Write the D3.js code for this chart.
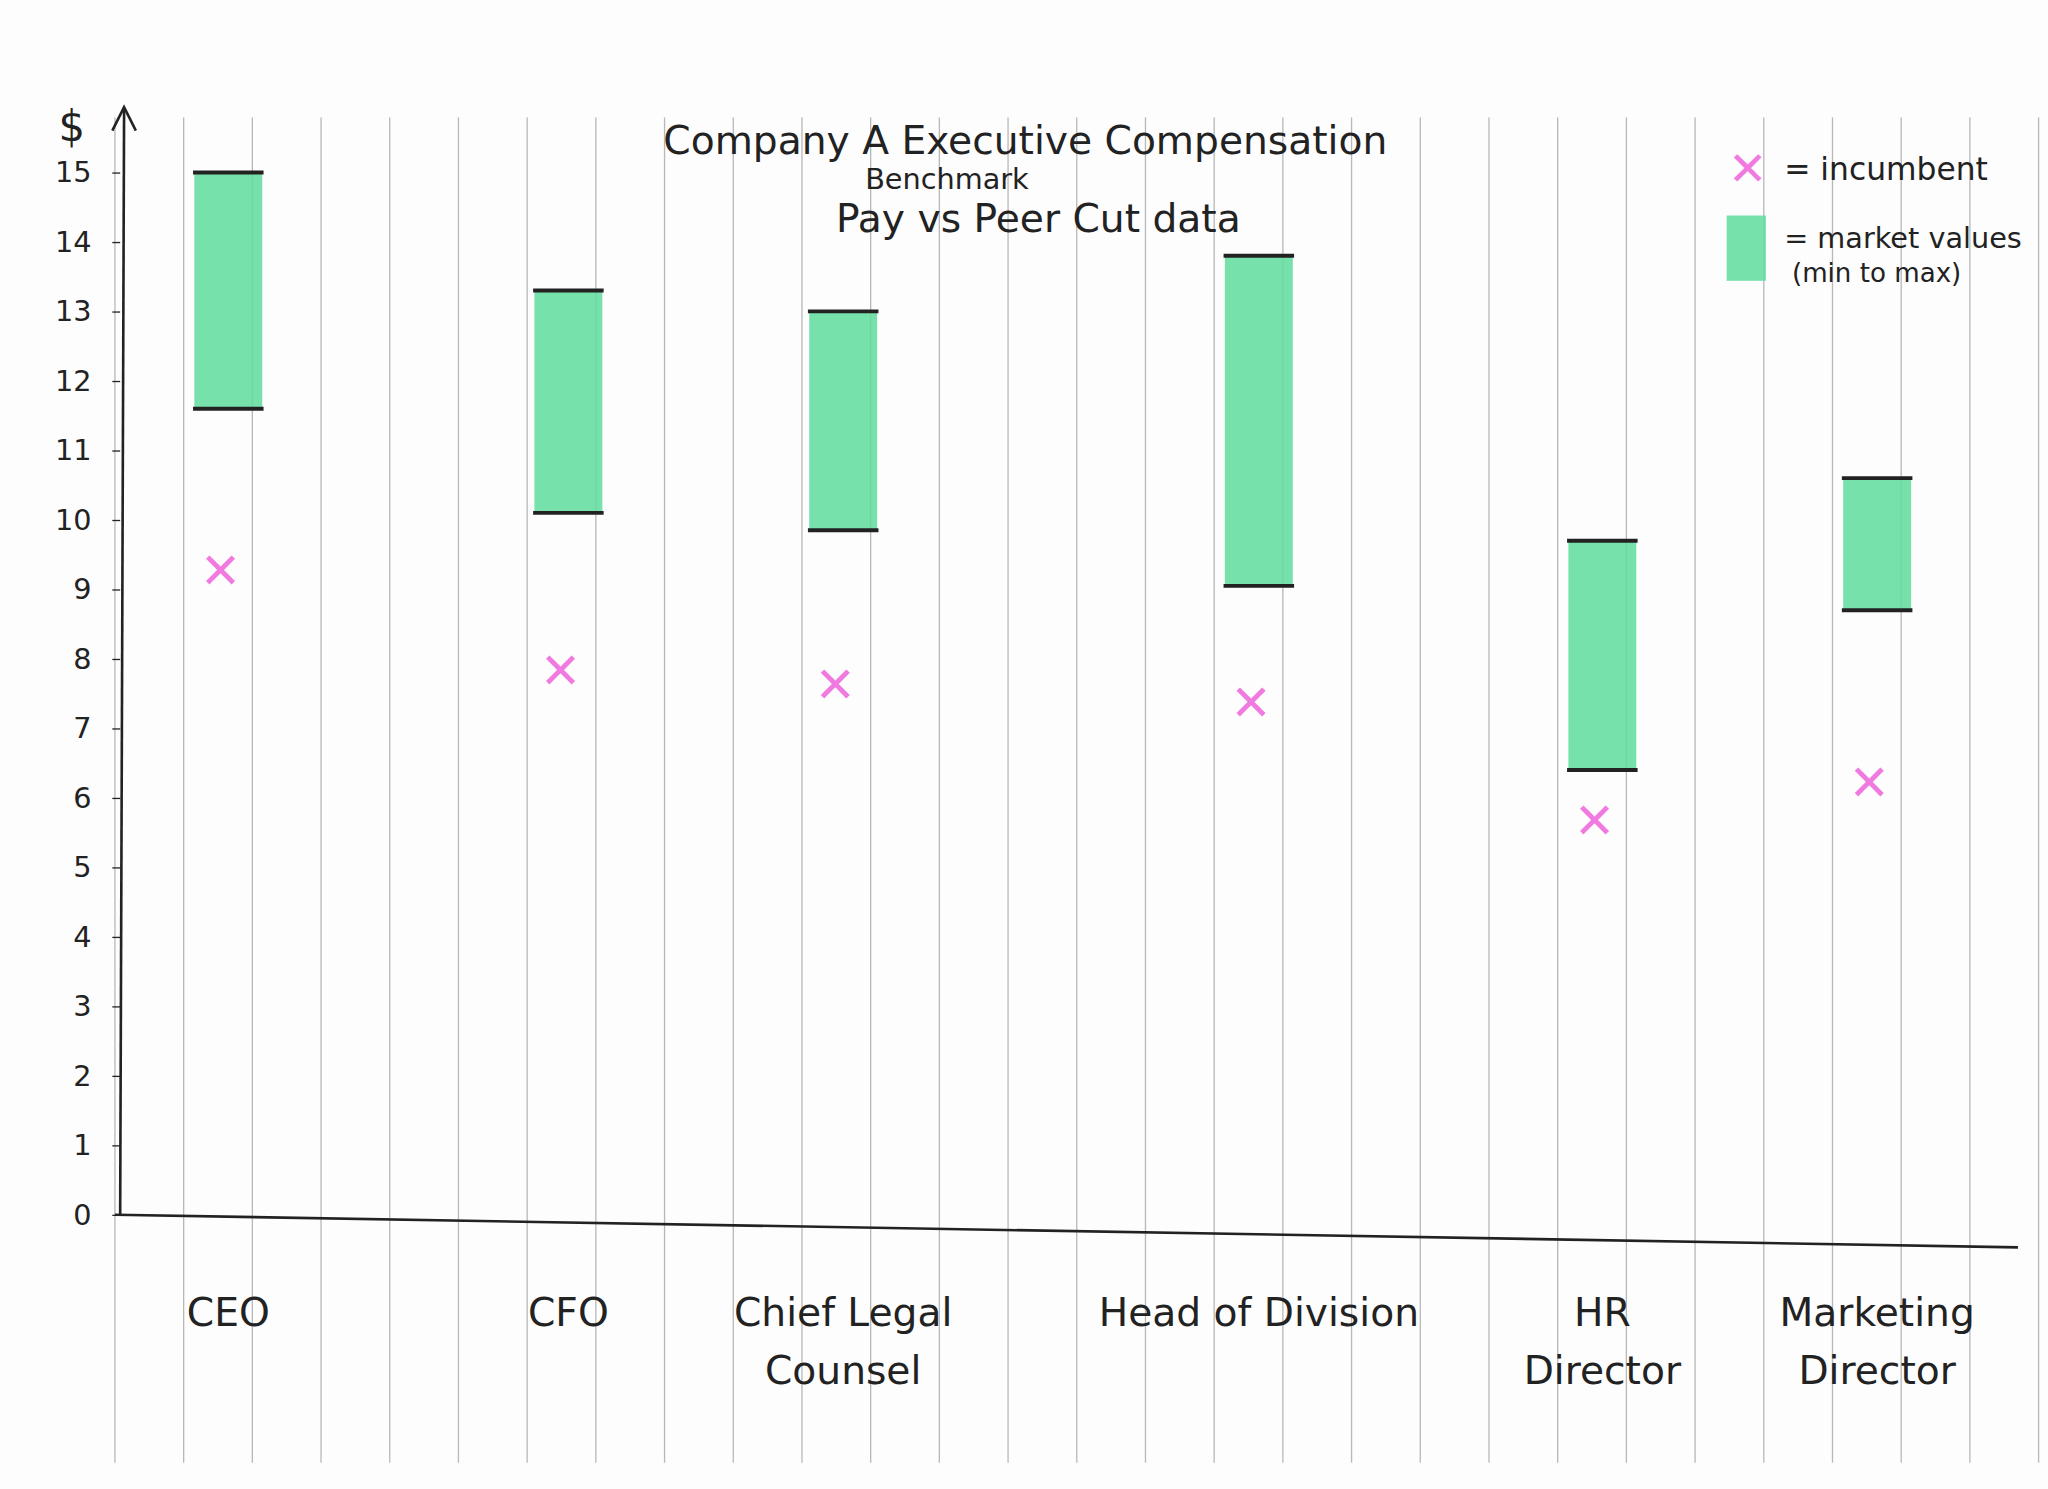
<!DOCTYPE html>
<html><head><meta charset="utf-8">
<script src="https://cdn.jsdelivr.net/npm/d3@7"></script>
<style>body{margin:0;background:#fff}text{font-family:"DejaVu Sans",sans-serif;fill:#222}</style>
</head><body>
<svg id="c" width="2048" height="1489" viewBox="0 0 1568 1140"></svg>
<script>
const categories = ["CEO","CFO","Chief Legal|Counsel","Head of Division","HR|Director","Marketing|Director"];
const gridColumn = [1.65, 6.6, 10.6, 16.65, 21.65, 25.65];
const marketMin = [11.6, 10.1, 9.85, 9.05, 6.4, 8.7];
const marketMax = [15.0, 13.3, 13.0, 13.8, 9.7, 10.6];
const incumbent = [9.25, 7.8, 7.6, 7.35, 5.65, 6.2];
const yTicks = d3.range(0, 16);

const svg = d3.select("#c");
svg.append("rect").attr("width",1568).attr("height",1140).attr("fill","#fdfdfd");
const x = d3.scaleLinear().domain([0, 1]).range([88, 140.6]);
const y = d3.scaleLinear().domain([0, 15]).range([930, 132]);

svg.append("g").selectAll("line").data(d3.range(0, 29)).join("line")
  .attr("x1", d => x(d)).attr("x2", d => x(d)).attr("y1", 90).attr("y2", 1120)
  .attr("stroke", "#b8b8b8").attr("stroke-width", 1);

const ya = svg.append("g").attr("transform", "translate(92,0)")
  .call(d3.axisLeft(y).tickValues(yTicks).tickSize(6).tickFormat(d3.format("d")));
ya.select(".domain").remove();
ya.selectAll("line").attr("stroke", "#222");
ya.selectAll("text").attr("x", -22).style("font-size", "22px").style("font-family","DejaVu Sans").attr("fill","#222");
svg.append("line").attr("x1",92).attr("x2",95).attr("y1",930).attr("y2",84).attr("stroke","#222").attr("stroke-width",2);
svg.append("path").attr("d","M86,100 L95,82 L104,100").attr("fill","none").attr("stroke","#222").attr("stroke-width",2);
svg.append("text").attr("x",55).attr("y",108).attr("text-anchor","middle").style("font-size","32px").text("$");

svg.append("line").attr("x1",88).attr("y1",y(0)).attr("x2",1545).attr("y2",y(0)+25).attr("stroke","#222").attr("stroke-width",2);

const g = svg.append("g");
categories.forEach((c, i) => {
  const cx = x(gridColumn[i]);
  g.append("rect").attr("x", cx - 26).attr("width", 52)
    .attr("y", y(marketMax[i])).attr("height", y(marketMin[i]) - y(marketMax[i]))
    .attr("fill", "#5fdc9c").attr("opacity", 0.85);
  [marketMin[i], marketMax[i]].forEach(v => g.append("line")
    .attr("x1", cx - 27).attr("x2", cx + 27).attr("y1", y(v)).attr("y2", y(v))
    .attr("stroke", "#222").attr("stroke-width", 3));
  g.append("text").attr("x", cx - 6).attr("y", y(incumbent[i]) + 12).attr("text-anchor","middle")
    .style("font-size","38px").style("font-weight","bold").style("fill","#f07ae0").text("✕");
  const lines = c.split("|");
  const t = g.append("text").attr("x", cx).attr("y", 1015).attr("text-anchor","middle").style("font-size","30px");
  lines.forEach((l, k) => t.append("tspan").attr("x", cx).attr("dy", k ? 45 : 0).text(l));
});

const title = ["Company A  Executive Compensation", "Benchmark", "Pay vs Peer Cut data"];
title.forEach((s, k) => svg.append("text").attr("x", [785, 725, 795][k]).attr("y", [118, 145, 178][k])
  .attr("text-anchor","middle").style("font-size", k === 1 ? "22px" : "30px").text(s));

svg.append("text").attr("x",1338).attr("y",142).attr("text-anchor","middle").style("font-size","36px").style("font-weight","bold").style("fill","#f07ae0").text("✕");
svg.append("text").attr("x",1366).attr("y",138).style("font-size","24px").text("= incumbent");
svg.append("rect").attr("x",1322).attr("y",165).attr("width",30).attr("height",50).attr("fill","#5fdc9c").attr("opacity",0.85);
svg.append("text").attr("x",1366).attr("y",190).style("font-size","22px").text("= market values");
svg.append("text").attr("x",1372).attr("y",216).style("font-size","20px").text("(min to max)");
</script>
</body></html>
